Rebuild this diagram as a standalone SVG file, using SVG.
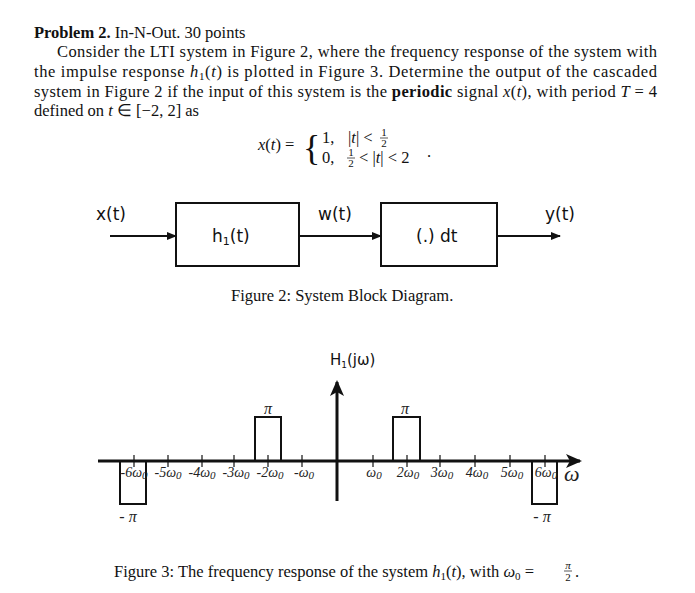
<svg xmlns="http://www.w3.org/2000/svg" width="695" height="593" viewBox="0 0 695 593">
<style>
.t{font-family:"Liberation Serif",serif;font-size:16.5px;fill:#111}
.f{font-family:"Liberation Serif",serif;font-size:11px;fill:#111}
.s{font-family:"DejaVu Sans",sans-serif;font-size:17px;fill:#111}
.m{font-family:"Liberation Serif",serif;font-size:14px;font-style:italic;fill:#222}
.k{stroke:#111;stroke-width:2;fill:none}
.k3{stroke:#111;stroke-width:3;fill:none}
.sub{font-size:11px}
</style>
<defs><marker id="a" markerWidth="10" markerHeight="8" refX="9" refY="4" orient="auto" markerUnits="userSpaceOnUse"><path d="M0,0 L10,4 L0,8 Z" fill="#111"/></marker>
<marker id="b" markerWidth="16" markerHeight="14" refX="14" refY="7" orient="auto" markerUnits="userSpaceOnUse"><path d="M0,0 L16,7 L0,14 L4,7 Z" fill="#111"/></marker></defs>
<rect width="695" height="593" fill="#fff"/>
<g id="text">
<text class="t" x="34" y="38"><tspan font-weight="bold">Problem 2.</tspan> In-N-Out. 30 points</text>
<text class="t" x="57" y="57" textLength="600" lengthAdjust="spacing">Consider the LTI system in Figure 2, where the frequency response of the system with</text>
<text class="t" x="34" y="77" textLength="623" lengthAdjust="spacing">the impulse response <tspan font-style="italic">h</tspan><tspan class="sub" dy="3">1</tspan><tspan dy="-3">(</tspan><tspan font-style="italic">t</tspan>) is plotted in Figure 3.  Determine the output of the cascaded</text>
<text class="t" x="34" y="97" textLength="623" lengthAdjust="spacing">system in Figure 2 if the input of this system is the <tspan font-weight="bold">periodic</tspan> signal <tspan font-style="italic">x</tspan>(<tspan font-style="italic">t</tspan>), with period <tspan font-style="italic">T</tspan> = 4</text>
<text class="t" x="34" y="116">defined on <tspan font-style="italic">t</tspan> ∈ [−2, 2] as</text>
<text class="t" x="258" y="150"><tspan font-style="italic">x</tspan>(<tspan font-style="italic">t</tspan>) =</text>
<text class="t" x="303" y="160" style="font-size:36px">{</text>
<text class="t" x="322" y="143">1,</text>
<text class="t" x="348" y="143">|<tspan font-style="italic">t</tspan>| &lt;</text>
<text class="f" x="384" y="136" text-anchor="middle">1</text><text class="f" x="384" y="147" text-anchor="middle">2</text>
<line x1="380" y1="138" x2="388" y2="138" stroke="#111" stroke-width="0.7"/>
<text class="t" x="322" y="163">0,</text>
<text class="f" x="351" y="156" text-anchor="middle">1</text><text class="f" x="351" y="167" text-anchor="middle">2</text>
<line x1="347" y1="158" x2="355" y2="158" stroke="#111" stroke-width="0.7"/>
<text class="t" x="359" y="163">&lt; |<tspan font-style="italic">t</tspan>| &lt; 2</text>
<text class="t" x="427" y="157">.</text>
<text class="t" x="231" y="301">Figure 2: System Block Diagram.</text>
<text class="t" x="114" y="577" textLength="420" lengthAdjust="spacing">Figure 3: The frequency response of the system <tspan font-style="italic">h</tspan><tspan class="sub" dy="3">1</tspan><tspan dy="-3">(</tspan><tspan font-style="italic">t</tspan>), with <tspan font-style="italic">ω</tspan><tspan class="sub" dy="3">0</tspan><tspan dy="-3"> =</tspan></text>
<text class="f" x="568" y="569" text-anchor="middle" font-style="italic">π</text><text class="f" x="568" y="581" text-anchor="middle">2</text>
<line x1="564" y1="571" x2="572" y2="571" stroke="#111" stroke-width="0.7"/>
<text class="t" x="575" y="577">.</text>
</g>
<g id="n1"><rect x="176" y="203" width="123" height="63" class="k"/><text class="s" x="212" y="242">h<tspan class="sub" dy="3">1</tspan><tspan dy="-3">(t)</tspan></text></g>
<g id="n2"><rect x="381" y="203" width="116" height="63" class="k"/><text class="s" x="416" y="242">(.) dt</text></g>
<g id="labels">
<text class="s" x="96" y="220">x(t)</text>
<text class="s" x="318" y="220">w(t)</text>
<text class="s" x="545" y="220">y(t)</text>
</g>
<g id="connectors">
<line x1="110" y1="236" x2="176" y2="236" class="k" marker-end="url(#a)"/>
<line x1="299" y1="236" x2="381" y2="236" class="k" marker-end="url(#a)"/>
<line x1="497" y1="236" x2="560" y2="236" class="k" marker-end="url(#a)"/>
</g>
<g id="plot">
<line x1="98" y1="461" x2="580" y2="461" class="k3" marker-end="url(#b)"/>
<line x1="337" y1="501" x2="337" y2="382" class="k3" marker-end="url(#b)"/>
<g stroke="#111" stroke-width="1.2">
<line x1="134" y1="455" x2="134" y2="467"/><line x1="168" y1="455" x2="168" y2="467"/><line x1="202" y1="455" x2="202" y2="467"/><line x1="234" y1="455" x2="234" y2="467"/><line x1="268" y1="455" x2="268" y2="467"/><line x1="302" y1="455" x2="302" y2="467"/>
<line x1="373" y1="455" x2="373" y2="467"/><line x1="407" y1="455" x2="407" y2="467"/><line x1="440" y1="455" x2="440" y2="467"/><line x1="475" y1="455" x2="475" y2="467"/><line x1="510" y1="455" x2="510" y2="467"/><line x1="545" y1="455" x2="545" y2="467"/>
</g>
<path d="M255,461 V417 H281 V461 M393,461 V417 H420 V461 M120,461 V504 H146 V461 M532,461 V504 H557 V461" class="k"/>
<g class="m" style="font-size:16px" text-anchor="middle">
<text x="268" y="414">π</text>
<text x="405" y="414">π</text>
<text x="128" y="522">- π</text>
<text x="542" y="522">- π</text>
</g>
<g class="m" text-anchor="middle">
<text x="134" y="477">-6ω<tspan class="sub" dy="2">0</tspan></text>
<text x="168" y="477">-5ω<tspan class="sub" dy="2">0</tspan></text>
<text x="202" y="477">-4ω<tspan class="sub" dy="2">0</tspan></text>
<text x="236" y="477">-3ω<tspan class="sub" dy="2">0</tspan></text>
<text x="270" y="477">-2ω<tspan class="sub" dy="2">0</tspan></text>
<text x="304" y="477">-ω<tspan class="sub" dy="2">0</tspan></text>
<text x="374" y="477">ω<tspan class="sub" dy="2">0</tspan></text>
<text x="408" y="477">2ω<tspan class="sub" dy="2">0</tspan></text>
<text x="442" y="477">3ω<tspan class="sub" dy="2">0</tspan></text>
<text x="477" y="477">4ω<tspan class="sub" dy="2">0</tspan></text>
<text x="512" y="477">5ω<tspan class="sub" dy="2">0</tspan></text>
<text x="546" y="477">6ω<tspan class="sub" dy="2">0</tspan></text>
</g>
<text class="m" x="564" y="481" style="font-size:22px">ω</text>
<text class="s" x="330" y="365" style="font-size:15px">H<tspan style="font-size:9px" dy="3">1</tspan><tspan dy="-3">(jω)</tspan></text>
</g>
</svg>
